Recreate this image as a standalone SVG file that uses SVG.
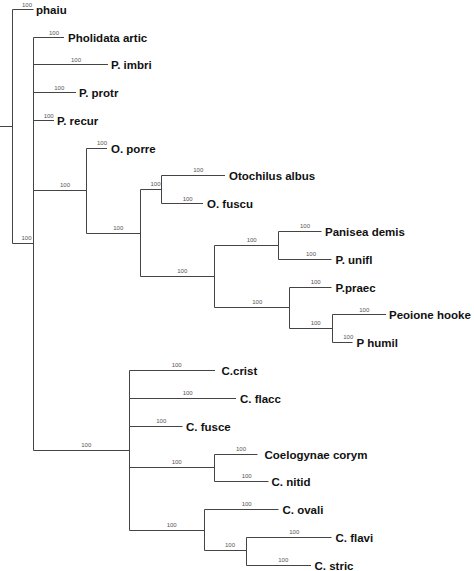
<svg xmlns="http://www.w3.org/2000/svg" width="474" height="571" viewBox="0 0 474 571">
<style>
.br{fill:none;stroke:#444;stroke-width:1}
.lf{font-family:"Liberation Sans",Arial,sans-serif;font-weight:bold;font-size:11.5px;fill:#111}
.bs{font-family:"Liberation Sans",Arial,sans-serif;font-size:6px;fill:#555;text-anchor:middle}
</style>
<rect width="474" height="571" fill="#fff"/>
<g id="connectors">
<path class="br" d="M0,126.5H12.5M12.5,9.5V243.5M12.5,9.5H33.5M12.5,243.5H33.5M33.5,37.5V450.5"/>
<path class="br" d="M33.5,37.5H64M33.5,64.5H108M33.5,92.5H76M33.5,120.5H54"/>
<path class="br" d="M33.5,190.5H86.5M86.5,148.5V233.5M86.5,148.5H107M86.5,233.5H140.5M140.5,189.5V276.5"/>
<path class="br" d="M140.5,189.5H161.5M161.5,175.5V203.5M161.5,175.5H225M161.5,203.5H203"/>
<path class="br" d="M140.5,276.5H214.5M214.5,245.5V307.5M214.5,245.5H278.5M278.5,231.5V259.5M278.5,231.5H321.5M278.5,259.5H331.5"/>
<path class="br" d="M214.5,307.5H289.5M289.5,287.5V328.5M289.5,287.5H331.5M289.5,328.5H332.5M332.5,314.5V342.5M332.5,314.5H386M332.5,342.5H352.5"/>
<path class="br" d="M33.5,450.5H129.5M129.5,370.5V530.5M129.5,370.5H215M129.5,398.5H236M129.5,426.5H182.5"/>
<path class="br" d="M129.5,467.5H214.5M214.5,454.5V481.5M214.5,454.5H257.5M214.5,481.5H268.5"/>
<path class="br" d="M129.5,530.5H204.5M204.5,509.5V550.5M204.5,509.5H278.5M204.5,550.5H246.5M246.5,537.5V565.5M246.5,537.5H331.5M246.5,565.5H311"/>
<g id="support">
<text class="bs" x="27" y="6.5">100</text>
<text class="bs" x="54" y="34.5">100</text>
<text class="bs" x="76" y="61.5">100</text>
<text class="bs" x="59.3" y="89.5">100</text>
<text class="bs" x="48.7" y="117.5">100</text>
<text class="bs" x="26.5" y="240">100</text>
<text class="bs" x="65" y="186.5">100</text>
<text class="bs" x="102" y="145">100</text>
<text class="bs" x="118.3" y="229.5">100</text>
<text class="bs" x="155.5" y="185.5">100</text>
<text class="bs" x="198.3" y="172">100</text>
<text class="bs" x="187.7" y="200.5">100</text>
<text class="bs" x="182.3" y="273">100</text>
<text class="bs" x="251.7" y="241.5">100</text>
<text class="bs" x="305" y="228">100</text>
<text class="bs" x="311" y="256">100</text>
<text class="bs" x="257.3" y="304">100</text>
<text class="bs" x="315.7" y="284">100</text>
<text class="bs" x="315.7" y="325">100</text>
<text class="bs" x="364.3" y="311.5">100</text>
<text class="bs" x="348.3" y="339">100</text>
<text class="bs" x="86.3" y="446.5">100</text>
<text class="bs" x="176.7" y="366.5">100</text>
<text class="bs" x="187.7" y="394.5">100</text>
<text class="bs" x="161.3" y="422.5">100</text>
<text class="bs" x="176.7" y="464">100</text>
<text class="bs" x="241" y="450.5">100</text>
<text class="bs" x="246.7" y="478">100</text>
<text class="bs" x="171.7" y="526.5">100</text>
<text class="bs" x="246.7" y="505.5">100</text>
<text class="bs" x="230" y="547">100</text>
<text class="bs" x="294.3" y="534">100</text>
<text class="bs" x="283.3" y="561.5">100</text>
</g>
</g>
<g id="phaiu"><text class="lf" x="36" y="13.5">phaiu</text></g>
<g id="pholidata-artic"><text class="lf" x="68" y="41.5">Pholidata artic</text></g>
<g id="p-imbri"><text class="lf" x="111" y="68.5">P. imbri</text></g>
<g id="p-protr"><text class="lf" x="79" y="96.5">P. protr</text></g>
<g id="p-recur"><text class="lf" x="57" y="124.5">P. recur</text></g>
<g id="o-porre"><text class="lf" x="111" y="152.5">O. porre</text></g>
<g id="otochilus-albus"><text class="lf" x="229" y="179.5">Otochilus albus</text></g>
<g id="o-fuscu"><text class="lf" x="207" y="207.5">O. fuscu</text></g>
<g id="panisea-demis"><text class="lf" x="325" y="235.5">Panisea demis</text></g>
<g id="p-unifl"><text class="lf" x="335.5" y="263.5">P. unifl</text></g>
<g id="p-praec"><text class="lf" x="335.5" y="291.5">P.praec</text></g>
<g id="peoione-hooke"><text class="lf" x="389" y="318.5">Peoione hooke</text></g>
<g id="p-humil"><text class="lf" x="356.5" y="346.5">P humil</text></g>
<g id="c-crist"><text class="lf" x="221.5" y="374.5">C.crist</text></g>
<g id="c-flacc"><text class="lf" x="240" y="402.5">C. flacc</text></g>
<g id="c-fusce"><text class="lf" x="186" y="430.5">C. fusce</text></g>
<g id="coelogynae-corym"><text class="lf" x="264.5" y="458.5">Coelogynae corym</text></g>
<g id="c-nitid"><text class="lf" x="271.5" y="485.5">C. nitid</text></g>
<g id="c-ovali"><text class="lf" x="282.5" y="513.5">C. ovali</text></g>
<g id="c-flavi"><text class="lf" x="335.5" y="541.5">C. flavi</text></g>
<g id="c-stric"><text class="lf" x="314.5" y="569.5">C. stric</text></g>
</svg>
